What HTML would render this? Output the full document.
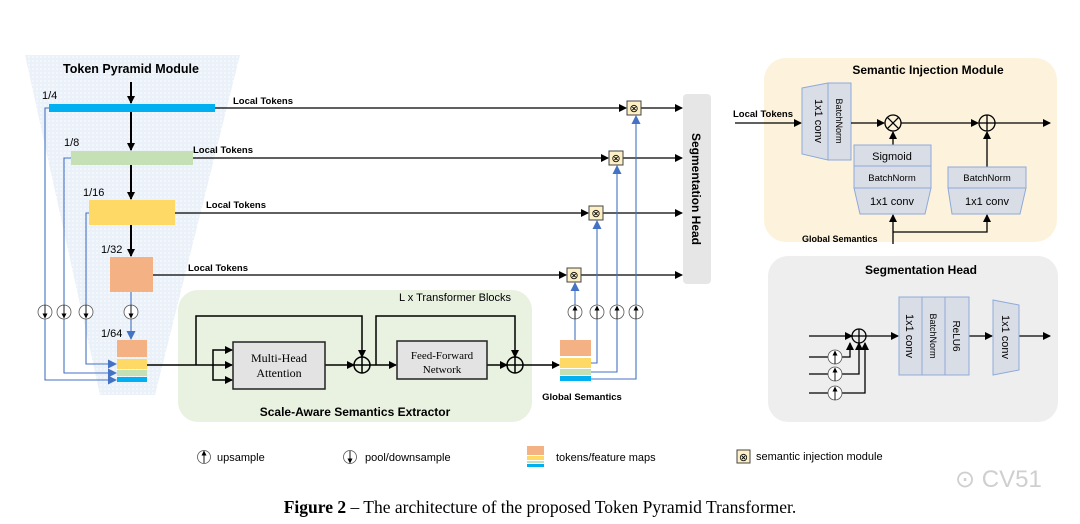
<!DOCTYPE html>
<html><head><meta charset="utf-8"><style>
html,body{margin:0;padding:0;background:#fff}
svg{display:block}
text{font-family:"Liberation Sans",sans-serif}
.b{font-weight:bold}
.s{font-family:"Liberation Serif",serif}
</style></head><body>
<svg width="1080" height="524" viewBox="0 0 1080 524" xmlns="http://www.w3.org/2000/svg">
<defs>
<marker id="ak" markerWidth="8" markerHeight="8" refX="7" refY="4" orient="auto" markerUnits="userSpaceOnUse"><path d="M0,0 L8,4 L0,8 z" fill="#000"/></marker>
<marker id="as" markerWidth="5" markerHeight="5" refX="4.5" refY="2.5" orient="auto" markerUnits="userSpaceOnUse"><path d="M0,0 L5,2.5 L0,5 z" fill="#000"/></marker>
<marker id="ab" markerWidth="9" markerHeight="9" refX="8" refY="4.5" orient="auto" markerUnits="userSpaceOnUse"><path d="M0,0 L9,4.5 L0,9 z" fill="#4472c4"/></marker>
<pattern id="dots" width="4" height="4" patternUnits="userSpaceOnUse"><rect width="4" height="4" fill="#eaf1f9"/><circle cx="1" cy="1" r="0.8" fill="#fff"/></pattern>
</defs>

<!-- pyramid -->
<polygon points="25,55 240,55 155,395 100,395" fill="url(#dots)"/>
<text x="131" y="73" class="b" font-size="12.5" text-anchor="middle">Token Pyramid Module</text>
<line x1="131" y1="82" x2="131" y2="103" stroke="#000" stroke-width="2" marker-end="url(#ak)"/>

<!-- transformer region -->
<rect x="178" y="290" width="354" height="132" rx="20" fill="#e9f1e0"/>
<text x="455" y="301" font-size="11" text-anchor="middle">L x Transformer Blocks</text>
<text x="355" y="416" class="b" font-size="12" text-anchor="middle">Scale-Aware Semantics Extractor</text>

<!-- levels -->
<rect x="49" y="104" width="166" height="8" fill="#00b0f0"/>
<text x="42" y="99" font-size="11">1/4</text>
<line x1="131" y1="112" x2="131" y2="150" stroke="#000" stroke-width="2" marker-end="url(#ak)"/>
<rect x="71" y="151" width="122" height="14" fill="#c5e0b4"/>
<text x="64" y="146" font-size="11">1/8</text>
<line x1="131" y1="165" x2="131" y2="199" stroke="#000" stroke-width="2" marker-end="url(#ak)"/>
<rect x="89" y="200" width="86" height="25" fill="#ffd966"/>
<text x="83" y="196" font-size="11">1/16</text>
<line x1="131" y1="225" x2="131" y2="256" stroke="#000" stroke-width="2" marker-end="url(#ak)"/>
<rect x="110" y="257" width="43" height="35" fill="#f4b183"/>
<text x="101" y="253" font-size="11">1/32</text>

<!-- local tokens lines -->
<g stroke="#000" stroke-width="1.3">
<line x1="215" y1="108" x2="626" y2="108" marker-end="url(#ak)"/>
<line x1="193" y1="158" x2="608" y2="158" marker-end="url(#ak)"/>
<line x1="175" y1="213" x2="588" y2="213" marker-end="url(#ak)"/>
<line x1="153" y1="275" x2="566" y2="275" marker-end="url(#ak)"/>
<line x1="641" y1="108" x2="682" y2="108" marker-end="url(#ak)"/>
<line x1="623" y1="158" x2="682" y2="158" marker-end="url(#ak)"/>
<line x1="603" y1="213" x2="682" y2="213" marker-end="url(#ak)"/>
<line x1="581" y1="275" x2="682" y2="275" marker-end="url(#ak)"/>
</g>
<g class="b" font-size="9.5">
<text x="233" y="104">Local Tokens</text>
<text x="193" y="153">Local Tokens</text>
<text x="206" y="208">Local Tokens</text>
<text x="188" y="271">Local Tokens</text>
</g>

<!-- injection boxes -->
<g>
<rect x="627" y="101" width="14" height="14" fill="#fdf0c6" stroke="#444"/>
<rect x="609" y="151" width="14" height="14" fill="#fdf0c6" stroke="#444"/>
<rect x="589" y="206" width="14" height="14" fill="#fdf0c6" stroke="#444"/>
<rect x="567" y="268" width="14" height="14" fill="#fdf0c6" stroke="#444"/>
</g>
<g font-size="11" text-anchor="middle"><text x="634" y="112">⊗</text><text x="616" y="162">⊗</text><text x="596" y="217">⊗</text><text x="574" y="279">⊗</text></g>

<!-- seg head bar -->
<rect x="683" y="94" width="28" height="190" rx="4" fill="#e7e6e6"/>
<text transform="translate(692,189) rotate(90)" class="b" font-size="12" text-anchor="middle">Segmentation Head</text>

<!-- blue pyramid lines -->
<g stroke="#4472c4" stroke-width="1.1" fill="none">
<polyline points="49,108 45,108 45,380 116,380" marker-end="url(#ab)"/>
<polyline points="71,158 64,158 64,373 116,373" marker-end="url(#ab)"/>
<polyline points="89,213 86,213 86,364 116,364" marker-end="url(#ab)"/>
<line x1="131" y1="292" x2="131" y2="339" marker-end="url(#ab)"/>
</g>
<!-- 1/64 stack -->
<text x="101" y="337" font-size="11">1/64</text>
<rect x="117" y="340" width="30" height="17" fill="#f4b183"/>
<rect x="117" y="359" width="30" height="10" fill="#ffd966"/>
<rect x="117" y="370" width="30" height="6" fill="#c5e0b4"/>
<rect x="117" y="377" width="30" height="5" fill="#00b0f0"/>

<!-- down circles -->
<g fill="#fff" stroke="#555" stroke-width="0.8">
<circle cx="45" cy="312" r="7"/><circle cx="64" cy="312" r="7"/><circle cx="86" cy="312" r="7"/><circle cx="131" cy="312" r="7"/>
</g>
<g stroke="#000" stroke-width="0.9"><line x1="45" y1="305" x2="45" y2="318" marker-end="url(#as)"/><line x1="64" y1="305" x2="64" y2="318" marker-end="url(#as)"/><line x1="86" y1="305" x2="86" y2="318" marker-end="url(#as)"/><line x1="131" y1="305" x2="131" y2="318" marker-end="url(#as)"/></g>

<!-- transformer -->
<g stroke="#000" stroke-width="1.5" fill="none">
<line x1="147" y1="365" x2="232" y2="365" marker-end="url(#ak)"/>
<polyline points="213,365 213,350 232,350" marker-end="url(#ak)"/>
<polyline points="213,365 213,380 232,380" marker-end="url(#ak)"/>
<polyline points="196,365 196,316 362,316 362,357" marker-end="url(#ak)"/>
<line x1="325" y1="365" x2="354" y2="365" marker-end="url(#ak)"/>
<line x1="370" y1="365" x2="396" y2="365" marker-end="url(#ak)"/>
<polyline points="376,365 376,316 515,316 515,357" marker-end="url(#ak)"/>
<line x1="487" y1="365" x2="507" y2="365" marker-end="url(#ak)"/>
<line x1="523" y1="365" x2="559" y2="365" marker-end="url(#ak)"/>
<circle cx="362" cy="365" r="8"/><line x1="354" y1="365" x2="370" y2="365"/><line x1="362" y1="357" x2="362" y2="373"/>
<circle cx="515" cy="365" r="8"/><line x1="507" y1="365" x2="523" y2="365"/><line x1="515" y1="357" x2="515" y2="373"/>
</g>
<rect x="233" y="342" width="92" height="47" fill="#e3e3e3" stroke="#222" stroke-width="1.5"/>
<text x="279" y="362" class="s" font-size="12" text-anchor="middle">Multi-Head</text>
<text x="279" y="377" class="s" font-size="12" text-anchor="middle">Attention</text>
<rect x="397" y="341" width="90" height="38" fill="#e3e3e3" stroke="#222" stroke-width="1.5"/>
<text x="442" y="359" class="s" font-size="11" text-anchor="middle">Feed-Forward</text>
<text x="442" y="373" class="s" font-size="11" text-anchor="middle">Network</text>

<!-- global stack -->
<rect x="560" y="340" width="31" height="16" fill="#f4b183"/>
<rect x="560" y="358" width="31" height="10" fill="#ffd966"/>
<rect x="560" y="369" width="31" height="6" fill="#c5e0b4"/>
<rect x="560" y="376" width="31" height="5" fill="#00b0f0"/>
<text x="582" y="400" class="b" font-size="9.5" text-anchor="middle">Global Semantics</text>
<g stroke="#4472c4" stroke-width="1.1" fill="none">
<line x1="575" y1="340" x2="575" y2="283" marker-end="url(#ab)"/>
<polyline points="591,363 597,363 597,221" marker-end="url(#ab)"/>
<polyline points="591,372 617,372 617,166" marker-end="url(#ab)"/>
<polyline points="591,379 636,379 636,116" marker-end="url(#ab)"/>
</g>
<g fill="#fff" stroke="#555" stroke-width="0.8">
<circle cx="575" cy="312" r="7"/><circle cx="597" cy="312" r="7"/><circle cx="617" cy="312" r="7"/><circle cx="636" cy="312" r="7"/>
</g>
<g stroke="#000" stroke-width="0.9"><line x1="575" y1="319" x2="575" y2="306" marker-end="url(#as)"/><line x1="597" y1="319" x2="597" y2="306" marker-end="url(#as)"/><line x1="617" y1="319" x2="617" y2="306" marker-end="url(#as)"/><line x1="636" y1="319" x2="636" y2="306" marker-end="url(#as)"/></g>

<!-- SIM panel -->
<rect x="764" y="58" width="293" height="184" rx="22" fill="#fdf3dc"/>
<text x="928" y="74" class="b" font-size="12" text-anchor="middle">Semantic Injection Module</text>
<text x="733" y="117" class="b" font-size="9.5">Local Tokens</text>
<line x1="735" y1="123" x2="801" y2="123" stroke="#000" stroke-width="1.3" marker-end="url(#ak)"/>
<polygon points="802,88 828,83 828,160 802,154" fill="#d9dde6" stroke="#8ea9db"/>
<rect x="828" y="83" width="23" height="77" fill="#d9dde6" stroke="#8ea9db"/>
<text transform="translate(815,121) rotate(90)" font-size="11" text-anchor="middle">1x1 conv</text>
<text transform="translate(836,121) rotate(90)" font-size="9" text-anchor="middle">BatchNorm</text>
<g stroke="#000" stroke-width="1.3" fill="none">
<line x1="851" y1="123" x2="884" y2="123" marker-end="url(#ak)"/>
<line x1="901" y1="123" x2="978" y2="123" marker-end="url(#ak)"/>
<line x1="995" y1="123" x2="1050" y2="123" marker-end="url(#ak)"/>
<line x1="893" y1="145" x2="893" y2="132" marker-end="url(#ak)"/>
<line x1="987" y1="167" x2="987" y2="132" marker-end="url(#ak)"/>
<line x1="893" y1="244" x2="893" y2="215" marker-end="url(#ak)"/>
<polyline points="893,232 987,232 987,215" marker-end="url(#ak)"/>
<circle cx="893" cy="123" r="8"/><line x1="887.3" y1="117.3" x2="898.7" y2="128.7"/><line x1="898.7" y1="117.3" x2="887.3" y2="128.7"/>
<circle cx="987" cy="123" r="8"/><line x1="979" y1="123" x2="995" y2="123"/><line x1="987" y1="115" x2="987" y2="131"/>
</g>
<rect x="854" y="145" width="77" height="21" fill="#d9dde6" stroke="#8ea9db"/>
<rect x="854" y="166" width="77" height="22" fill="#d9dde6" stroke="#8ea9db"/>
<polygon points="854,188 931,188 925,214 860,214" fill="#d9dde6" stroke="#8ea9db"/>
<text x="892" y="160" font-size="11" text-anchor="middle">Sigmoid</text>
<text x="892" y="181" font-size="9.5" text-anchor="middle">BatchNorm</text>
<text x="892" y="205" font-size="11" text-anchor="middle">1x1 conv</text>
<rect x="948" y="167" width="78" height="21" fill="#d9dde6" stroke="#8ea9db"/>
<polygon points="948,188 1026,188 1020,214 952,214" fill="#d9dde6" stroke="#8ea9db"/>
<text x="987" y="181" font-size="9.5" text-anchor="middle">BatchNorm</text>
<text x="987" y="205" font-size="11" text-anchor="middle">1x1 conv</text>
<text x="802" y="242" class="b" font-size="9">Global Semantics</text>

<!-- Seg head panel -->
<rect x="768" y="256" width="290" height="166" rx="20" fill="#eeeeee"/>
<text x="921" y="274" class="b" font-size="12" text-anchor="middle">Segmentation Head</text>
<g stroke="#000" stroke-width="1.3" fill="none">
<line x1="809" y1="336" x2="852" y2="336" marker-end="url(#ak)"/>
<polyline points="809,357 850,357 850,343" marker-end="url(#ak)"/>
<polyline points="809,374 859,374 859,343" marker-end="url(#ak)"/>
<polyline points="809,393 865,393 865,343" marker-end="url(#ak)"/>
<line x1="866" y1="336" x2="898" y2="336" marker-end="url(#ak)"/>
<line x1="969" y1="336" x2="992" y2="336" marker-end="url(#ak)"/>
<line x1="1019" y1="336" x2="1050" y2="336" marker-end="url(#ak)"/>
<circle cx="859" cy="336" r="7"/><line x1="852" y1="336" x2="866" y2="336"/><line x1="859" y1="329" x2="859" y2="343"/>
</g>
<g fill="#fff" stroke="#555" stroke-width="0.8"><circle cx="835" cy="357" r="7"/><circle cx="835" cy="374" r="7"/><circle cx="835" cy="393" r="7"/></g>
<g stroke="#000" stroke-width="0.9"><line x1="835" y1="364" x2="835" y2="351" marker-end="url(#as)"/><line x1="835" y1="381" x2="835" y2="368" marker-end="url(#as)"/><line x1="835" y1="400" x2="835" y2="387" marker-end="url(#as)"/></g>
<rect x="899" y="297" width="23" height="78" fill="#d9dde6" stroke="#8ea9db"/>
<rect x="922" y="297" width="23" height="78" fill="#d9dde6" stroke="#8ea9db"/>
<rect x="945" y="297" width="24" height="78" fill="#d9dde6" stroke="#8ea9db"/>
<polygon points="993,300 1019,305 1019,370 993,375" fill="#d9dde6" stroke="#8ea9db"/>
<text transform="translate(906,336) rotate(90)" font-size="11" text-anchor="middle">1x1 conv</text>
<text transform="translate(930,336) rotate(90)" font-size="9" text-anchor="middle">BatchNorm</text>
<text transform="translate(953,336) rotate(90)" font-size="10" text-anchor="middle">ReLU6</text>
<text transform="translate(1002,337) rotate(90)" font-size="11" text-anchor="middle">1x1 conv</text>

<!-- legend -->
<circle cx="204" cy="457" r="6.5" fill="#fff" stroke="#555" stroke-width="0.8"/>
<line x1="204" y1="463" x2="204" y2="451" stroke="#000" stroke-width="0.9" marker-end="url(#as)"/>
<text x="217" y="461" font-size="11">upsample</text>
<circle cx="350" cy="457" r="6.5" fill="#fff" stroke="#555" stroke-width="0.8"/>
<line x1="350" y1="451" x2="350" y2="463" stroke="#000" stroke-width="0.9" marker-end="url(#as)"/>
<text x="365" y="461" font-size="11">pool/downsample</text>
<rect x="527" y="446" width="17" height="9" fill="#f4b183"/>
<rect x="527" y="456" width="17" height="4" fill="#ffd966"/>
<rect x="527" y="461" width="17" height="2" fill="#c5e0b4"/>
<rect x="527" y="464" width="17" height="3" fill="#00b0f0"/>
<text x="556" y="461" font-size="11">tokens/feature maps</text>
<rect x="737" y="450" width="13" height="13" fill="#fdf0c6" stroke="#444"/>
<text x="743.5" y="461" font-size="11" text-anchor="middle">⊗</text>
<text x="756" y="460" font-size="11">semantic injection module</text>
<text x="955" y="487" font-size="24" fill="#cfcfcf">⊙ CV51</text>

<text x="540" y="513" class="s" font-size="17.5" text-anchor="middle"><tspan font-weight="bold">Figure 2</tspan> – The architecture of the proposed Token Pyramid Transformer.</text>
</svg>
</body></html>
